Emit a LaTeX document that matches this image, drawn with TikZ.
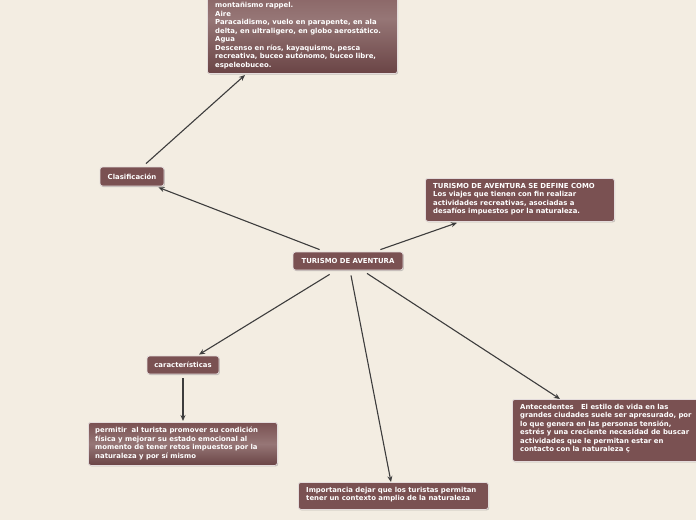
\documentclass[tikz,border=0pt]{standalone}
\usepackage{fontspec}
\setmainfont{DejaVu Sans}
\usetikzlibrary{calc,shadows,arrows.meta}
\definecolor{bg}{HTML}{F3EDE2}
\definecolor{boxc}{HTML}{7A5152}
\definecolor{boxlight}{HTML}{967676}
\definecolor{boxdark}{HTML}{6A4445}
\definecolor{linec}{HTML}{3D3D3D}
\definecolor{edgec}{HTML}{E4DCDC}
\newcommand{\boxfont}{\bfseries\fontsize{6.9}{8.5}\selectfont}
\tikzset{
  box/.style={draw=edgec, line width=0.8pt, fill=boxc, rounded corners=2.5pt,
    text=white, font=\boxfont, inner sep=0pt,
    drop shadow={shadow xshift=0.8pt, shadow yshift=-1pt, opacity=0.35, fill=black!60}},
  gradbox/.style={box, top color=boxc, bottom color=boxdark, middle color=boxlight},
  para/.style={align=left, anchor=north west, text=white, font=\boxfont, inner sep=0pt},
  conn/.style={draw=linec, line width=1.1pt, -{Stealth[length=6pt,width=5pt]}}
}
\begin{document}
\begin{tikzpicture}[x=1pt,y=-1pt]
\useasboundingbox[fill=bg] (0,0) rectangle (696,520);
% top box
\node[gradbox, minimum width=190pt, minimum height=110pt, anchor=south west] (top) at (207,74) {};
\node[para, anchor=south west] (toptext) at (215,69) {montañismo rappel.\\Aire\\Paracaidismo, vuelo en parapente, en ala\\delta, en ultraligero, en globo aerostático.\\Agua\\Descenso en ríos, kayaquismo, pesca\\recreativa, buceo autónomo, buceo libre,\\espeleobuceo.};
% clasificacion
\node[box, minimum width=64pt, minimum height=19pt] (clas) at (132,176.5) {Clasificación};
% definition
\node[box, minimum width=189pt, minimum height=43pt, anchor=north west] (def) at (425,178) {};
\node[para] (deftext) at (433,183) {TURISMO DE AVENTURA SE DEFINE COMO\\Los viajes que tienen con fin realizar\\actividades recreativas, asociadas a\\desafíos impuestos por la naturaleza.};
% main
\node[box, minimum width=110pt, minimum height=18pt] (main) at (348,261) {TURISMO DE AVENTURA};
% caracteristicas
\node[box, minimum width=72pt, minimum height=18pt] (carac) at (183,365) {características};
% permitir
\node[gradbox, minimum width=189pt, minimum height=43pt, anchor=north west] (perm) at (88,422) {};
\node[para] (permtext) at (95,427) {permitir\ \ al turista promover su condición\\física y mejorar su estado emocional al\\momento de tener retos impuestos por la\\naturaleza y por sí mismo};
% antecedentes
\node[box, minimum width=190pt, minimum height=62pt, anchor=north west] (ant) at (512,399) {};
\node[para] (anttext) at (520,404) {Antecedentes\ \ \ El estilo de vida en las\\grandes ciudades suele ser apresurado, por\\lo que genera en las personas tensión,\\estrés y una creciente necesidad de buscar\\actividades que le permitan estar en\\contacto con la naturaleza ç};
% importancia
\node[box, minimum width=190pt, minimum height=27pt, anchor=north west] (imp) at (298,482) {};
\node[para] (imptext) at (306,487) {Importancia dejar que los turistas permitan\\tener un contexto amplio de la naturaleza};
% connectors
\draw[conn] ($(main.north west)+(27,-2)$) -- ($(clas.south east)+(-6,1)$);
\draw[conn] ($(clas.north)+(14,-3)$) -- ($(top.south west)+(38,1)$);
\draw[conn] ($(main.north east)+(-23,-2)$) -- ($(def.south west)+(32,1)$);
\draw[conn] ($(main.south west)+(37,4)$) -- ($(carac.north)+(16,-1)$);
\draw[conn] ($(carac.south)+(0,4)$) -- ($(perm.north west)+(95,-1)$);
\draw[conn] ($(main.south)+(3,5)$) -- ($(imp.north west)+(93,0)$);
\draw[conn] ($(main.south)+(19,3)$) -- ($(ant.north west)+(48,0)$);
\end{tikzpicture}
\end{document}
